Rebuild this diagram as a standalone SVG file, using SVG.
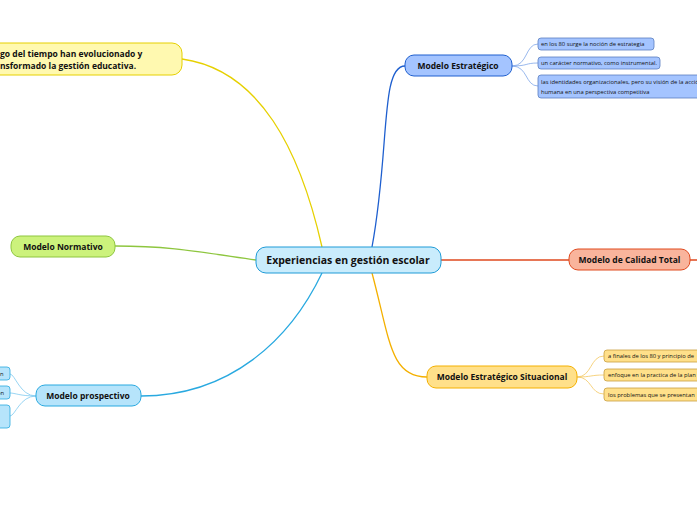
<svg xmlns="http://www.w3.org/2000/svg" width="697" height="520" viewBox="0 0 697 520">
<style>
text{font-family:"Open Sans","Noto Sans",sans-serif;fill:#111}
.b{font-weight:bold;font-size:8.5px}
.s{font-size:5.8px}
path{fill:none}
</style>
<rect width="697" height="520" fill="#fff"/>
<g id="connectors" stroke-width="1.3">
<path d="M322,247 C300,150 260,70 182,59" stroke="#e6d000"/>
<path d="M256,260 C200,252 170,246 115,246" stroke="#8ec63f"/>
<path d="M322,273 C290,340 230,396 141,396" stroke="#29a9e0"/>
<path d="M36,396 C20,396 15,374 10,374 M36,396 C20,396 15,393 10,393 M36,396 C20,396 15,416 10,416" stroke="#7fcaf0" stroke-width="0.8"/>
<path d="M372,247 C390,150 380,66 405,66" stroke="#1e5fcf"/>
<path d="M512,66 C528,66 525,44 538,44 M512,66 C528,66 525,63 538,63 M512,66 C528,66 525,86 538,86" stroke="#7fa6e8" stroke-width="0.8"/>
<path d="M441,260 L569,260 M690,260 L697,260" stroke="#e04a1f"/>
<path d="M372,273 C390,340 390,377 427,377" stroke="#f4b000"/>
<path d="M577,377 C592,377 590,356 604,356 M577,377 C592,377 590,375 604,375 M577,377 C592,377 590,394 604,394" stroke="#f4c860" stroke-width="0.8"/>
</g>
<g id="central"><rect x="256" y="247" width="185" height="26" rx="10" fill="#c9ecfc" stroke="#1e9bd7"/><text x="348" y="264" text-anchor="middle" style="font-weight:bold;font-size:10.5px">Experiencias en gestión escolar</text></g>
<g id="n-tiempo"><rect x="-20" y="43" width="202" height="32" rx="10" fill="#fff9b0" stroke="#e6d000"/><text class="b" x="0" y="57">go del tiempo han evolucionado y</text><text class="b" x="0" y="69">nsformado la gestión educativa.</text></g>
<g id="n-normativo"><rect x="11" y="236" width="104" height="21" rx="9" fill="#ccf27c" stroke="#8ec63f"/><text class="b" x="63" y="249.5" text-anchor="middle">Modelo Normativo</text></g>
<g id="n-prospectivo"><rect x="36" y="385" width="105" height="21" rx="9" fill="#b6e4fb" stroke="#29a9e0"/><text class="b" x="88" y="398.5" text-anchor="middle">Modelo prospectivo</text></g>
<g id="p1"><rect x="-10" y="367" width="20" height="13" rx="3" fill="#b6e4fb" stroke="#29a9e0" stroke-width="0.8"/><text class="s" x="0" y="375.5">n</text></g>
<g id="p2"><rect x="-10" y="386" width="20" height="13" rx="3" fill="#b6e4fb" stroke="#29a9e0" stroke-width="0.8"/><text class="s" x="-3" y="394.5">ón</text></g>
<g id="p3"><rect x="-10" y="405" width="20" height="23" rx="3" fill="#b6e4fb" stroke="#29a9e0" stroke-width="0.8"/></g>
<g id="n-estrategico"><rect x="405" y="55" width="107" height="21" rx="9" fill="#a4c4ff" stroke="#1e5fcf"/><text class="b" x="458" y="68.5" text-anchor="middle">Modelo  Estratégico</text></g>
<g id="e1"><rect x="538" y="38" width="116" height="12" rx="3" fill="#a4c4ff" stroke="#5a7fc0" stroke-width="0.8"/><text class="s" x="541" y="46">en los 80 surge la noción de estrategia</text></g>
<g id="e2"><rect x="538" y="57" width="122" height="12" rx="3" fill="#a4c4ff" stroke="#5a7fc0" stroke-width="0.8"/><text class="s" x="541" y="65">un carácter normativo, como instrumental.</text></g>
<g id="e3"><rect x="538" y="75" width="170" height="23" rx="3" fill="#a4c4ff" stroke="#5a7fc0" stroke-width="0.8"/><text class="s" x="541" y="84">las identidades organizacionales, pero su visión de la acción</text><text class="s" x="541" y="94">humana en una perspectiva competitiva</text></g>
<g id="n-calidad"><rect x="569" y="249" width="121" height="21" rx="9" fill="#f9b49c" stroke="#e04a1f"/><text class="b" x="629.5" y="262.5" text-anchor="middle">Modelo de Calidad Total</text></g>
<g id="n-situacional"><rect x="427" y="366" width="150" height="22" rx="9" fill="#ffe08a" stroke="#f4b000"/><text class="b" x="502" y="380" text-anchor="middle">Modelo Estratégico  Situacional</text></g>
<g id="s1"><rect x="604" y="350" width="100" height="12" rx="3" fill="#ffe08a" stroke="#c9a040" stroke-width="0.8"/><text class="s" x="608" y="358">a finales de los 80  y principio de</text></g>
<g id="s2"><rect x="604" y="369" width="100" height="12" rx="3" fill="#ffe08a" stroke="#c9a040" stroke-width="0.8"/><text class="s" x="608" y="377">enfoque en la  practica de la plan</text></g>
<g id="s3"><rect x="604" y="388" width="100" height="13" rx="3" fill="#ffe08a" stroke="#c9a040" stroke-width="0.8"/><text class="s" x="608" y="396.5">los problemas que se  presentan</text></g>
</svg>
